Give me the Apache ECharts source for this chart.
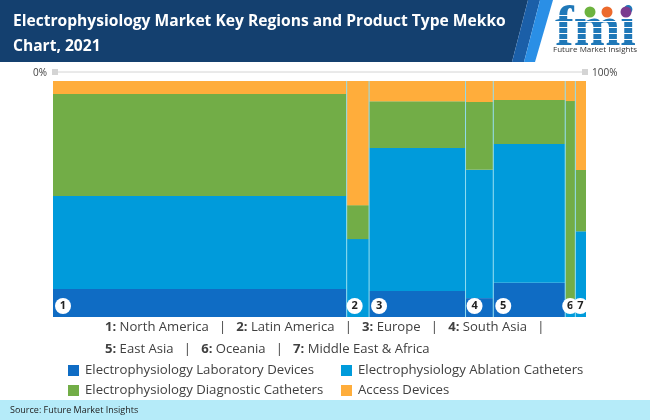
<!DOCTYPE html>
<html>
<head>
<meta charset="utf-8">
<style>html,body{margin:0;padding:0;background:#fff}#chart{width:650px;height:420px}</style>
<script src="https://cdn.jsdelivr.net/npm/echarts@6/dist/echarts.min.js"></script>
</head>
<body>
<div id="chart"></div>
<script>
// Column widths are each region's share of the market, segments are % within the region
const regions = ['North America', 'Latin America', 'Europe', 'South Asia', 'East Asia', 'Oceania', 'Middle East & Africa'];
const regionWidths = [55.1, 4.2, 18.1, 5.2, 13.5, 1.9, 2.0];
const labDevices = [11.9, 0, 11, 8, 14.5, 0, 0];
const ablationCatheters = [39.4, 33, 60.6, 54.4, 58.8, 7.6, 36.3];
const diagnosticCatheters = [43.2, 14.4, 19.8, 28.7, 18.6, 83.9, 26];
const accessDevices = [5.5, 52.6, 8.6, 8.9, 8.1, 8.5, 37.7];
const badgeOffsets = [10, 8, 10, 9, 10, 5, 5];
const scaleEnds = ['0%', '100%'];

const FONT = '"Open Sans", sans-serif';
const TEXT_COLOR = '#404040';
const SEPARATOR = '#8fdcef';

const columnStarts = [];
regionWidths.reduce((sum, w, i) => { columnStarts[i] = sum; return sum + w; }, 0);

// Every segment sits on top of the product types listed before it
const productSeries = [
    { name: 'Electrophysiology Laboratory Devices', values: labDevices, color: '#0f6cc4' },
    { name: 'Electrophysiology Ablation Catheters', values: ablationCatheters, color: '#009bdb' },
    { name: 'Electrophysiology Diagnostic Catheters', values: diagnosticCatheters, color: '#72ad47' },
    { name: 'Access Devices', values: accessDevices, color: '#ffad3b' }
];

function segmentRows(seriesIndex) {
    return regions.map((region, i) => {
        let base = 0;
        for (let k = 0; k < seriesIndex; k++) base += productSeries[k].values[i];
        return [columnStarts[i], columnStarts[i] + regionWidths[i], base, base + productSeries[seriesIndex].values[i]];
    });
}

function renderSegment(params, api) {
    const start = api.coord([api.value(0), api.value(3)]);
    const end = api.coord([api.value(1), api.value(2)]);
    return {
        type: 'rect',
        shape: { x: start[0], y: start[1], width: end[0] - start[0], height: end[1] - start[1] },
        style: { fill: api.visual('color') }
    };
}

function renderSeparator(params, api) {
    const top = api.coord([api.value(0), 100]);
    const bottom = api.coord([api.value(0), 0]);
    return {
        type: 'line',
        shape: { x1: top[0], y1: top[1], x2: bottom[0], y2: bottom[1] },
        style: { stroke: SEPARATOR, lineWidth: 1 }
    };
}

function renderBadge(params, api) {
    const pos = api.coord([api.value(0), 0]);
    const cx = pos[0] + badgeOffsets[params.dataIndex];
    const cy = pos[1] - 11;
    return {
        type: 'group',
        children: [
            { type: 'circle', shape: { cx: cx, cy: cy, r: 8 }, style: { fill: '#fff' } },
            { type: 'text', style: { x: cx, y: cy, text: String(params.dataIndex + 1), fill: '#222', font: 'bold 11px ' + FONT, align: 'center', verticalAlign: 'middle' } }
        ]
    };
}

function regionLine(entries, y, withTrailing) {
    const parts = entries.map(i => '{b|' + (i + 1) + ':} ' + regions[i]);
    return {
        type: 'text', left: 105, top: y,
        style: {
            text: parts.join('   |   ') + (withTrailing ? '   |' : ''),
            font: '13.1px ' + FONT,
            fill: TEXT_COLOR,
            rich: { b: { font: 'bold 13.1px ' + FONT, fill: TEXT_COLOR } }
        }
    };
}

// Thin white bands that cut through the logo letters
function logoStripes() {
    return [15, 21, 27, 33, 39].map(y => ({
        type: 'rect', z: 5, shape: { x: 553, y: y, width: 86, height: 1 }, style: { fill: '#fff' }
    }));
}

const legendBase = {
    orient: 'vertical', itemWidth: 11, itemHeight: 11, itemGap: 7, icon: 'rect',
    textStyle: { fontFamily: FONT, fontSize: 13.2, color: TEXT_COLOR, padding: [0, 0, 0, 1] },
    selectedMode: false
};

const chart = echarts.init(document.getElementById('chart'));

chart.setOption({
    animation: false,
    backgroundColor: '#fff',
    grid: { left: 53, right: 64, top: 81, bottom: 103 },
    xAxis: { type: 'value', min: 0, max: 100, show: false },
    yAxis: { type: 'value', min: 0, max: 100, show: false },
    legend: [
        Object.assign({}, legendBase, { left: 63, top: 359, data: [productSeries[0].name, productSeries[2].name] }),
        Object.assign({}, legendBase, { left: 336, top: 359, data: [productSeries[1].name, productSeries[3].name] })
    ],
    series: productSeries.map((s, idx) => ({
        type: 'custom',
        name: s.name,
        coordinateSystem: 'cartesian2d',
        itemStyle: { color: s.color },
        renderItem: renderSegment,
        data: segmentRows(idx)
    })).concat([
        { type: 'custom', silent: true, z: 3, renderItem: renderSeparator, data: columnStarts.slice(1).map(v => [v]) },
        { type: 'custom', silent: true, z: 4, renderItem: renderBadge, data: columnStarts.map(v => [v]) }
    ]),
    graphic: [
        // Header band and logo
        { type: 'polygon', z: -1, shape: { points: [[0, 0], [528, 0], [512, 62], [0, 62]] }, style: { fill: '#14406f' } },
        { type: 'polygon', z: -1, shape: { points: [[528, 0], [540, 0], [524, 62], [512, 62]] }, style: { fill: '#1b5fa8' } },
        { type: 'polygon', z: -1, shape: { points: [[540, 0], [553, 0], [535, 62], [524, 62]] }, style: { fill: '#2a8fe6' } },
        { type: 'text', left: 13, top: 14, style: { text: 'Electrophysiology Market Key Regions and Product Type Mekko', font: 'bold 15.6px ' + FONT, fill: '#fff' } },
        { type: 'text', left: 13, top: 39, style: { text: 'Chart, 2021', font: 'bold 15.6px ' + FONT, fill: '#fff' } },
        { type: 'text', left: 555, top: 3, style: { text: 'fmi', font: 'bold 56px "Liberation Serif", serif', fill: '#1f78b8' } }
    ].concat(logoStripes(), [
        { type: 'text', left: 553, top: 46, style: { text: 'Future Market Insights', font: '8px ' + FONT, fill: '#333' } },
        { type: 'circle', z: 6, shape: { cx: 590, cy: 12, r: 5.5 }, style: { fill: '#6db33f' } },
        { type: 'circle', z: 6, shape: { cx: 607, cy: 12, r: 5.5 }, style: { fill: '#ec6a2c' } },
        { type: 'circle', z: 6, shape: { cx: 626, cy: 12, r: 5.5 }, style: { fill: '#7a3b8f' } },
        // Scale above the plot
        { type: 'line', shape: { x1: 55, y1: 72, x2: 585, y2: 72 }, style: { stroke: '#d4d4d4', lineWidth: 1 } },
        { type: 'rect', shape: { x: 52, y: 69, width: 6, height: 6 }, style: { fill: '#d4d4d4' } },
        { type: 'rect', shape: { x: 582, y: 69, width: 6, height: 6 }, style: { fill: '#d4d4d4' } },
        { type: 'text', left: 33, top: 68, style: { text: scaleEnds[0], font: '10px ' + FONT, fill: TEXT_COLOR } },
        { type: 'text', left: 592, top: 68, style: { text: scaleEnds[1], font: '10px ' + FONT, fill: TEXT_COLOR } },
        // Region key
        regionLine([0, 1, 2, 3], 321, true),
        regionLine([4, 5, 6], 343, false),
        // Source strip
        { type: 'rect', shape: { x: 0, y: 400, width: 650, height: 20 }, style: { fill: '#b5ebf9' } },
        { type: 'text', left: 10, top: 406, style: { text: 'Source: Future Market Insights', font: '9px ' + FONT, fill: '#222' } }
    ])
});
</script>
</body>
</html>
